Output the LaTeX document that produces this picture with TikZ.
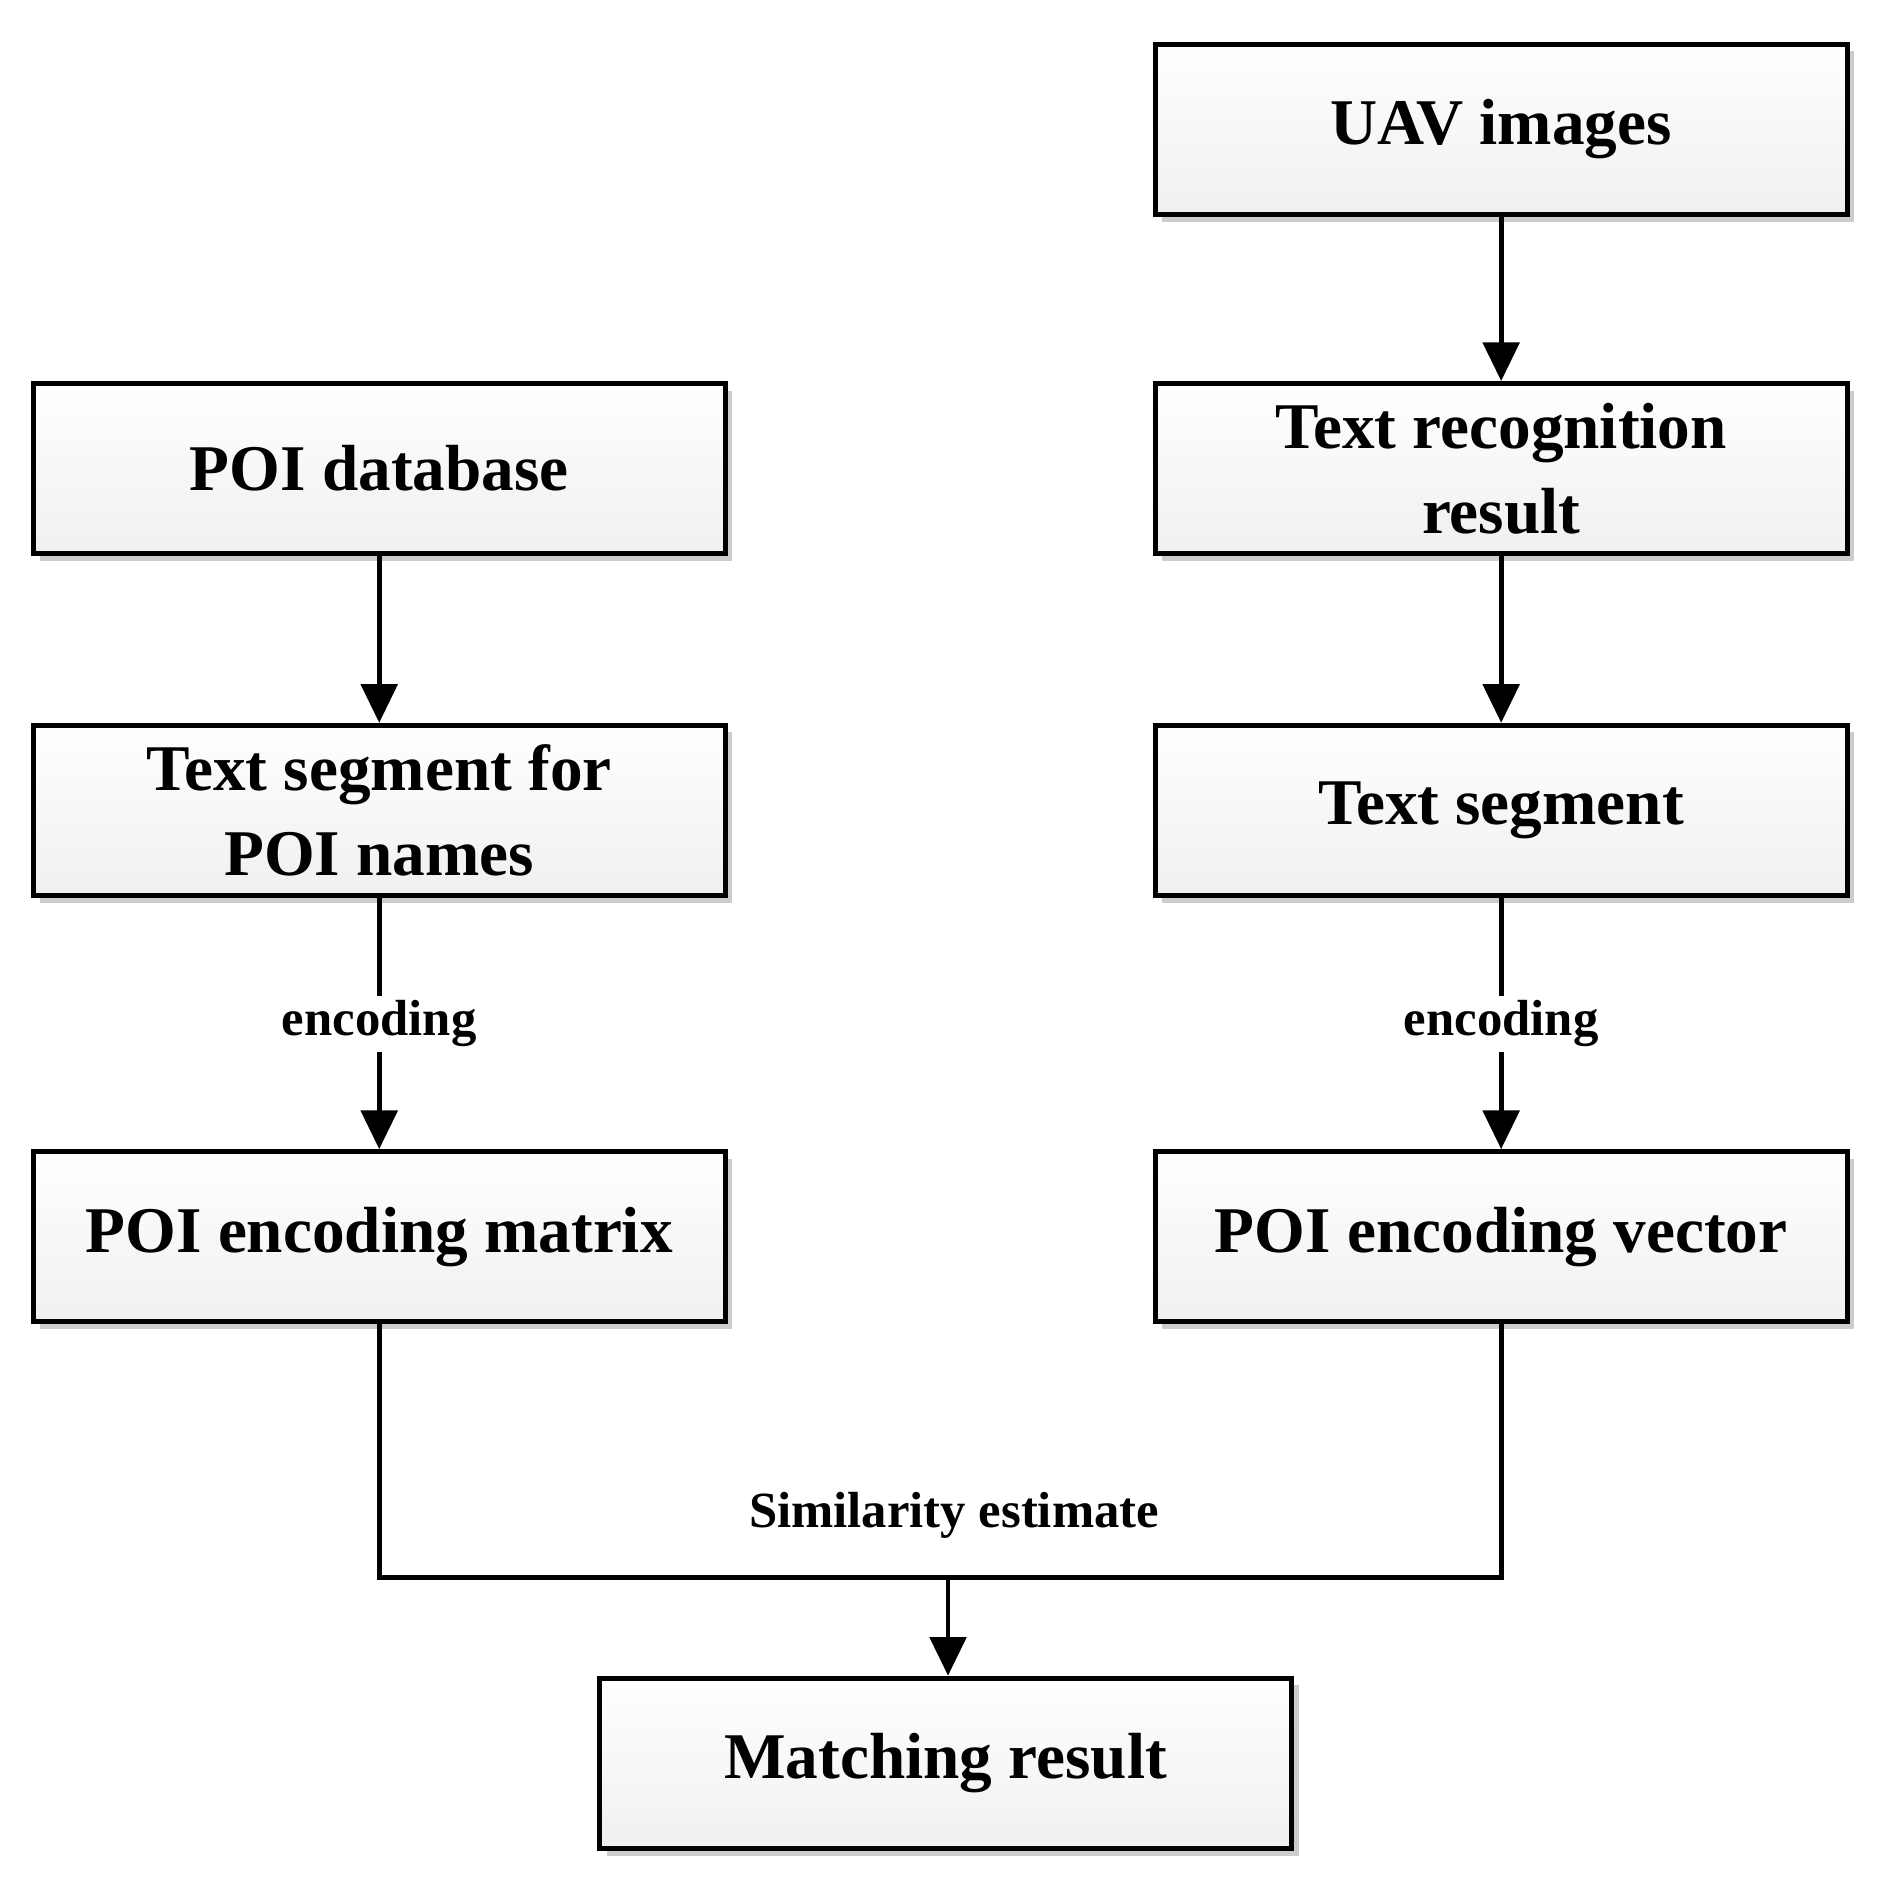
\documentclass[tikz,border=0pt]{standalone}
\usepackage{fontspec}
\setmainfont{Liberation Serif}
\usetikzlibrary{arrows.meta,shadows}
\begin{document}
\begin{tikzpicture}[x=0.5pt,y=-0.5pt,
  box/.style={draw=black,line width=2pt,minimum width=286.5pt,minimum height=70.5pt,
    top color=white,bottom color=gray!12,align=center,
    font=\fontsize{27}{35}\selectfont\bfseries,inner sep=0pt,
    drop shadow={shadow xshift=3pt,shadow yshift=-3pt,fill=gray!40,opacity=1}},
  arr/.style={line width=2pt,-{Triangle[length=16pt,width=15pt]}},
  ln/.style={line width=2pt},
  lab/.style={font=\fontsize{21}{24}\selectfont\bfseries,fill=white,inner sep=2pt}]
\useasboundingbox (0,0) rectangle (1556,1560);
\node[box] (uav) at (1243,107) {UAV images};
\node[box] (rec) at (1243,388) {Text recognition\\result};
\node[box] (seg) at (1243,671) {Text segment};
\node[box] (vec) at (1243,1024) {POI encoding vector};
\node[box] (db) at (314,388) {POI database};
\node[box] (segp) at (314,671) {Text segment for\\POI names};
\node[box] (mat) at (314,1024) {POI encoding matrix};
\node[box] (res) at (783,1460) {Matching result};
\draw[arr] (uav) -- (rec);
\draw[arr] (rec) -- (seg);
\draw[arr] (db) -- (segp);
\draw[arr] (segp) -- node[lab]{encoding} (mat);
\draw[arr] (seg) -- node[lab]{encoding} (vec);
\coordinate (l) at (314,1306);
\coordinate (r) at (1243,1306);
\coordinate (m) at (785,1306);
\draw[ln] (mat.south) -- (l) -- (r) -- (vec.south);
\draw[arr] (m) -- (res.north -| m);
\node[lab,fill=none] (sim) at (790,1255) {Similarity estimate};
\end{tikzpicture}
\end{document}
